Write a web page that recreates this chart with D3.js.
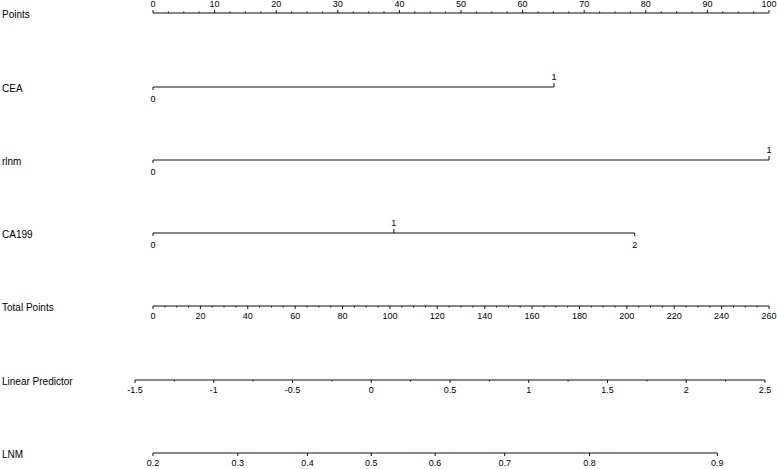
<!DOCTYPE html>
<html>
<head>
<meta charset="utf-8">
<script src="https://cdn.jsdelivr.net/npm/d3@7"></script>
<style>
  body { margin: 0; background: #fff; }
  svg text { font-family: "Liberation Sans", Arial, sans-serif; fill: #000; }
</style>
</head>
<body>
<div id="chart"></div>
<script>
const W = 777, H = 469;

/* nomogram data */
const pointsMajor = [0, 10, 20, 30, 40, 50, 60, 70, 80, 90, 100];
const pointsMinor = [2.5, 5, 7.5, 12.5, 15, 17.5, 22.5, 25, 27.5, 32.5, 35, 37.5, 42.5, 45, 47.5,
  52.5, 55, 57.5, 62.5, 65, 67.5, 72.5, 75, 77.5, 82.5, 85, 87.5, 92.5, 95, 97.5];

const ceaLevels = ["0", "1"];
const ceaPoints = [0, 65.1];
const rlnmLevels = ["0", "1"];
const rlnmPoints = [0, 100];
const ca199Levels = ["0", "1", "2"];
const ca199Points = [0, 39.1, 78.2];

const totalMajor = [0, 20, 40, 60, 80, 100, 120, 140, 160, 180, 200, 220, 240, 260];
const totalMinor = [5, 10, 15, 25, 30, 35, 45, 50, 55, 65, 70, 75, 85, 90, 95, 105, 110, 115,
  125, 130, 135, 145, 150, 155, 165, 170, 175, 185, 190, 195, 205, 210, 215, 225, 230, 235, 245, 250, 255];

const lpMajor = [-1.5, -1, -0.5, 0, 0.5, 1, 1.5, 2, 2.5];
const lpMinor = [-1.25, -0.75, -0.25, 0.25, 0.75, 1.25, 1.75, 2.25];

const lnmTicks = [0.2, 0.3, 0.4, 0.5, 0.6, 0.7, 0.8, 0.9];

const rowNames = ["Points", "CEA", "rlnm", "CA199", "Total Points", "Linear Predictor", "LNM"];
const rowY = [13, 87, 160, 233, 306, 380, 453];

const svg = d3.select("#chart").append("svg")
  .attr("width", W)
  .attr("height", H);

const xPoints = d3.scaleLinear().domain([0, 100]).range([153, 769]);
const xTotal = d3.scaleLinear().domain([0, 260]).range([153, 769]);
const xLP = d3.scaleLinear().domain([-1.5, 2.5]).range([135, 765]);
const xLNM = p => xLP(Math.log(p / (1 - p)));

const fmt = d => String(d);
const ink = "#111";

/* row names */
svg.selectAll("text.rowname")
  .data(rowNames)
  .enter().append("text")
  .attr("class", "rowname")
  .attr("x", 2)
  .attr("y", (d, i) => rowY[i] + 2)
  .attr("dominant-baseline", "middle")
  .style("font-size", "10px")
  .text(d => d);

/* generic ruler: line + major ticks with labels + minor ticks */
function ruler(y, scale, major, minor, dir, lo, hi) {
  const g = svg.append("g").attr("transform", "translate(0," + y + ")");
  g.append("line")
    .attr("x1", scale(lo)).attr("x2", scale(hi))
    .attr("stroke", ink).attr("stroke-width", 1.1);
  const s = dir === "up" ? -1 : 1;
  g.selectAll("line.maj").data(major).enter().append("line")
    .attr("x1", d => scale(d)).attr("x2", d => scale(d))
    .attr("y1", 0).attr("y2", s * 3)
    .attr("stroke", ink);
  g.selectAll("line.min").data(minor).enter().append("line")
    .attr("x1", d => scale(d)).attr("x2", d => scale(d))
    .attr("y1", 0).attr("y2", s * 1.5)
    .attr("stroke", ink);
  g.selectAll("text").data(major).enter().append("text")
    .attr("x", d => scale(d))
    .attr("y", dir === "up" ? -6 : 12.5)
    .attr("text-anchor", "middle")
    .style("font-size", "9px")
    .text(fmt);
}

ruler(rowY[0], xPoints, pointsMajor, pointsMinor, "up", 0, 100);

/* categorical variables: labels alternate below / above */
function variable(y, levels, pts) {
  const g = svg.append("g").attr("transform", "translate(0," + y + ")");
  g.append("line")
    .attr("x1", xPoints(d3.min(pts))).attr("x2", xPoints(d3.max(pts)))
    .attr("stroke", ink).attr("stroke-width", 1.1);
  levels.forEach((lab, i) => {
    const up = i % 2 === 1;
    const x = xPoints(pts[i]);
    g.append("line")
      .attr("x1", x).attr("x2", x)
      .attr("y1", 0).attr("y2", up ? -4 : 3)
      .attr("stroke", ink);
    g.append("text")
      .attr("x", x)
      .attr("y", up ? -7 : 15)
      .attr("text-anchor", "middle")
      .style("font-size", "9px")
      .text(lab);
  });
}

variable(rowY[1], ceaLevels, ceaPoints);
variable(rowY[2], rlnmLevels, rlnmPoints);
variable(rowY[3], ca199Levels, ca199Points);

ruler(rowY[4], xTotal, totalMajor, totalMinor, "down", 0, 260);
ruler(rowY[5], xLP, lpMajor, lpMinor, "down", -1.5, 2.5);

/* LNM probability axis, placed through the linear predictor scale */
(function () {
  const y = rowY[6];
  const g = svg.append("g").attr("transform", "translate(0," + y + ")");
  g.append("line")
    .attr("x1", xLNM(lnmTicks[0])).attr("x2", xLNM(lnmTicks[lnmTicks.length - 1]))
    .attr("stroke", ink).attr("stroke-width", 1.1);
  g.selectAll("line.t").data(lnmTicks).enter().append("line")
    .attr("x1", d => xLNM(d)).attr("x2", d => xLNM(d))
    .attr("y1", 0).attr("y2", 3)
    .attr("stroke", ink);
  g.selectAll("text").data(lnmTicks).enter().append("text")
    .attr("x", d => xLNM(d))
    .attr("y", 12.5)
    .attr("text-anchor", "middle")
    .style("font-size", "9px")
    .text(fmt);
})();
</script>
</body>
</html>
